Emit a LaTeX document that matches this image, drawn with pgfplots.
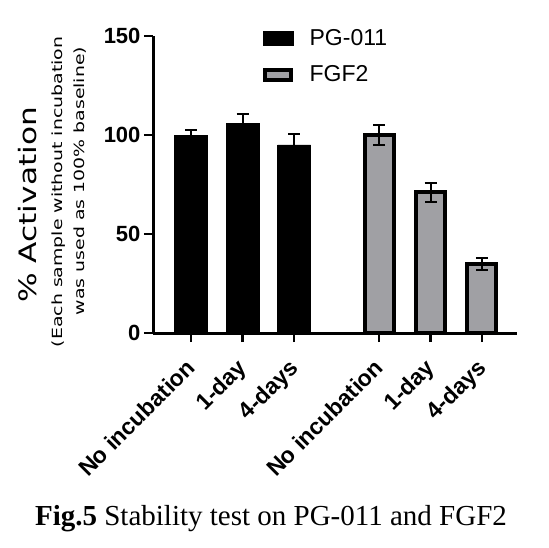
\documentclass[border=0pt]{standalone}
\usepackage{graphicx}
\usepackage{pgfplots}
\pgfplotsset{compat=1.18}
\usepackage{fontspec}
\setmainfont{Liberation Sans}
\newfontfamily\dejavu{DejaVu Sans}
\newfontfamily\serif{Liberation Serif}
\definecolor{fgfgray}{RGB}{160,160,164}
\pgfplotsset{fgfleg/.style={legend image code/.code={\draw[##1] (2pt,-5pt) rectangle (28pt,5pt);}}}

\begin{document}
\begin{tikzpicture}[x=1pt,y=1pt]
\useasboundingbox (0,0) rectangle (549,547);
\begin{axis}[
  at={(153pt,214pt)}, anchor=south west,
  scale only axis, width=364pt, height=297pt,
  xmin=-0.74, xmax=6.33, ymin=0, ymax=150,
  axis lines=left,
  axis line style={line width=3pt, -},
  tick align=outside,
  major tick length=9pt,
  tick style={line width=2.5pt, black},
  xtick={0,1,2,3.65,4.65,5.65},
  xticklabels={No incubation,1-day,4-days,No incubation,1-day,4-days},
  ytick={0,50,100,150},
  /pgf/number format/assume math mode=true,
  yticklabel style={font=\bfseries\fontsize{22}{22}\selectfont},
  xticklabel style={font=\bfseries\fontsize{23}{23}\selectfont, rotate=45,
    anchor=north east, xshift=-12pt, yshift=-3pt},
  legend image code/.code={\draw[#1] (0pt,-7pt) rectangle (30pt,7pt);},
  legend style={at={(0.302,1.03)}, anchor=north west, draw=none, fill=none,
    inner sep=0pt, row sep=15pt, font=\fontsize{23}{23}\selectfont,
    /tikz/every odd column/.append style={column sep=14pt}},
  legend cell align=left,
]

% PG-011
\addplot[ybar, bar width=33pt, bar shift=0pt, fill=black, draw=black, line width=0.5pt,
  error bars/.cd, y dir=plus, y explicit,
  error bar style={line width=2pt, black},
  error mark options={rotate=90, mark size=6pt, line width=2pt, black}]
  coordinates {
  (0,100) +- (0,2.5)
  (1,106) +- (0,4.5)
  (2,95) +- (0,5.5)
};
\addlegendentry{PG-011}

% FGF2
\addplot[ybar, bar width=29pt, bar shift=0pt, fill=fgfgray, draw=black, line width=4pt, fgfleg,
  error bars/.cd, y dir=both, y explicit,
  error bar style={line width=2pt, black},
  error mark options={rotate=90, mark size=6pt, line width=2pt, black}]
  coordinates {
  (3.65,100) +- (0,5)
  (4.65,71) +- (0,5)
  (5.65,35) +- (0,3)
};
\addlegendentry{FGF2}

\end{axis}

\node[rotate=90, font=\dejavu\fontsize{24}{24}\selectfont] at (28,342) {\scalebox{1.3}[1]{\% Activation}};
\node[rotate=90, font=\dejavu\fontsize{14}{14}\selectfont] at (59,355) {\scalebox{1.35}[1]{(Each sample without incubation}};
\node[rotate=90, font=\dejavu\fontsize{14}{14}\selectfont] at (80,366) {\scalebox{1.35}[1]{was used as 100\% baseline)}};
\node[font=\serif\fontsize{29}{29}\selectfont, anchor=base] at (271,22) {\textbf{Fig.5} Stability test on PG-011 and FGF2};
\end{tikzpicture}
\end{document}
